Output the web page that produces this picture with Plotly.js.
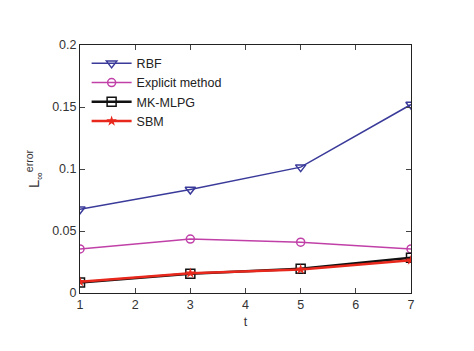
<!DOCTYPE html>
<html><head><meta charset="utf-8">
<script src="https://cdn.plot.ly/plotly-3.0.1.min.js"></script>
<style>body{margin:0;background:#fff}#g{width:474px;height:351px}</style>
</head><body><div id="g"></div>
<script>
const t = [1, 3, 5, 7];
const rbf = [0.0675, 0.0835, 0.1015, 0.152];
const explicitMethod = [0.0355, 0.0435, 0.041, 0.0355];
const mkmlpg = [0.0085, 0.0155, 0.0195, 0.0285];
const sbm = [0.009, 0.016, 0.019, 0.0265];
const names = ["RBF", "Explicit method", "MK-MLPG", "SBM"];

const traces = [
  {x: t, y: rbf, name: names[0], mode: "lines+markers",
   line: {color: "#3a3a9a", width: 1.5},
   marker: {symbol: "triangle-down-open", size: 9, color: "#3a3a9a", line: {width: 1.5}}},
  {x: t, y: explicitMethod, name: names[1], mode: "lines+markers",
   line: {color: "#c040a8", width: 1.5},
   marker: {symbol: "circle-open", size: 8, color: "#c040a8", line: {width: 1.5}}},
  {x: t, y: mkmlpg, name: names[2], mode: "lines+markers",
   line: {color: "#111111", width: 2.5},
   marker: {symbol: "square-open", size: 9, color: "#111111", line: {width: 1.5}}},
  {x: t, y: sbm, name: names[3], mode: "lines+markers",
   line: {color: "#e8281c", width: 2.5},
   marker: {symbol: "star", size: 8, color: "#e8281c"}}
];

const layout = {
  width: 474, height: 351,
  margin: {l: 80, r: 63, t: 45, b: 58},
  paper_bgcolor: "#fff", plot_bgcolor: "#fff",
  font: {family: "Liberation Sans, Arial, sans-serif", size: 12, color: "#333"},
  showlegend: true,
  legend: {x: 0.02, y: 0.985, xanchor: "left", yanchor: "top", bgcolor: "rgba(255,255,255,0)",
           borderwidth: 0, font: {size: 12.5, color: "#222"}, tracegroupgap: 0, itemwidth: 40},
  xaxis: {range: [1, 7], tickvals: [1,2,3,4,5,6,7], ticks: "inside", ticklen: 5, mirror: "ticks",
          showline: true, linecolor: "#222", linewidth: 1, showgrid: false, zeroline: false,
          tickfont: {size: 12.5},
          title: {text: "t", standoff: 6, font: {size: 12.5}}},
  yaxis: {range: [0, 0.2], tickvals: [0, 0.05, 0.1, 0.15, 0.2], ticktext: ["0","0.05","0.1","0.15","0.2"],
          ticks: "inside", ticklen: 5, mirror: "ticks",
          showline: true, linecolor: "#222", linewidth: 1, showgrid: false, zeroline: false,
          tickfont: {size: 12.5},
          title: {text: "L<sub>∞</sub><sup>error</sup>", standoff: 8, font: {size: 15}}}
};
Plotly.newPlot("g", traces, layout, {displayModeBar: false, staticPlot: true});
</script></body></html>
